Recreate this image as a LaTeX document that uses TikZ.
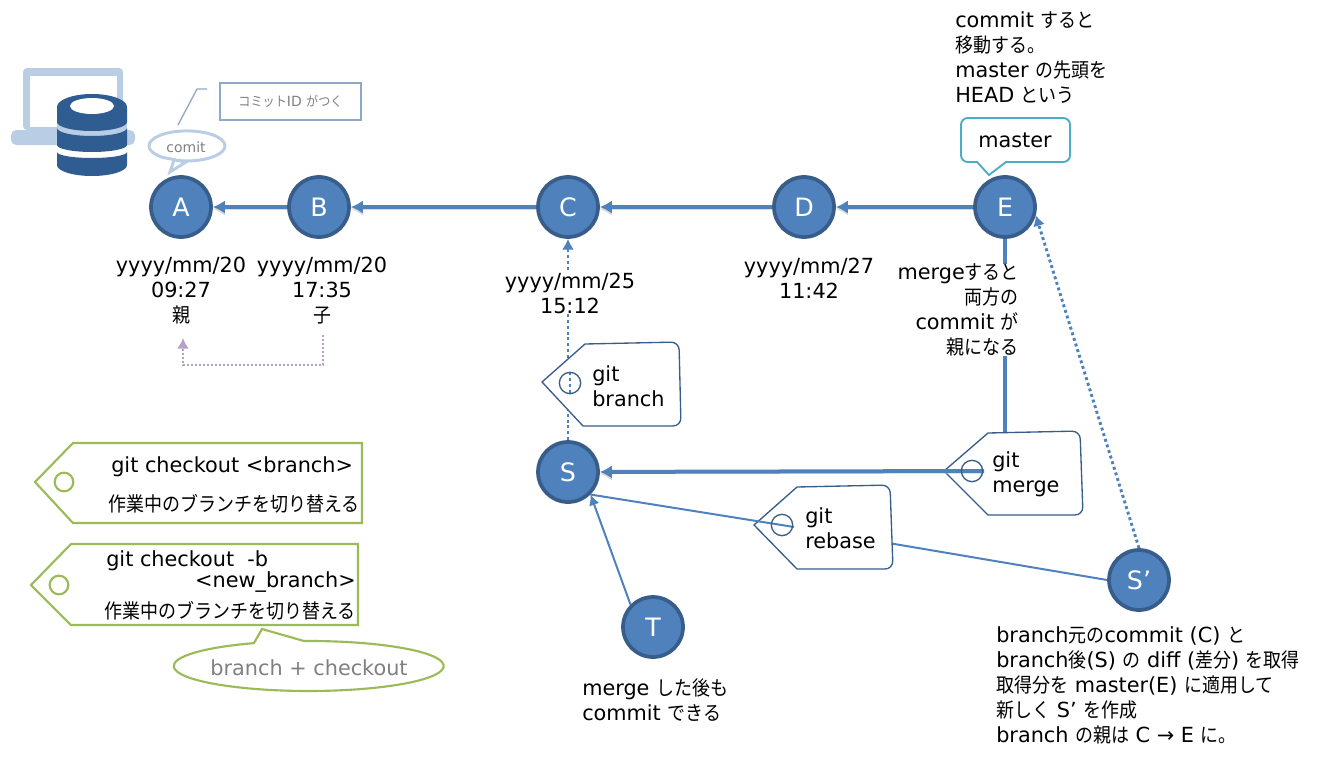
\documentclass[tikz,border=0pt]{standalone}
\usepackage{fontspec}
\setmainfont{DejaVu Sans}
\newfontfamily\jpfont[Scale=0.96,FakeStretch=0.9]{Noto Sans CJK JP}
\newcommand{\jp}[1]{{\jpfont #1}}
\usepackage{xcolor}
\usepackage{tikz}
\usetikzlibrary{arrows.meta,calc,shapes.geometric}
\definecolor{commitblue}{HTML}{4F81BD}
\definecolor{commitdark}{HTML}{385D8A}
\definecolor{lightblue}{HTML}{B9CDE5}
\definecolor{dbblue}{HTML}{2F5C91}
\definecolor{boxblue}{HTML}{8EA9C8}
\definecolor{taggreen}{HTML}{9BBB59}
\definecolor{teal}{HTML}{4BACC6}
\definecolor{dotpurple}{HTML}{B3A2C7}
\begin{document}
\begin{tikzpicture}
[x=0.75pt,y=-0.75pt,
	commit/.style={shape=circle,draw=commitdark,line width=2.8pt,fill=commitblue,
		text=white,minimum width=45pt,inner sep=0pt,font=\fontsize{19}{21}\selectfont},
	caption/.style={inner sep=0pt,align=left,font=\fontsize{15.6}{18.75}\selectfont},
	stamp/.style={caption,align=center,fill=white},
	flow/.style={-{Latex[length=9pt,width=10pt]},line width=3pt,commitblue,
		preaction={draw=black!15,transform canvas={yshift=-1.5pt}}},
	pointer/.style={line width=3.4pt,commitblue},
	thinflow/.style={line width=1.5pt,commitblue},
	dotflow/.style={-{Latex[length=8pt,width=9pt]},line width=2.2pt,commitblue,
		dash pattern=on 2.2pt off 2.2pt},
	gittag/.style={draw=commitdark,line width=1pt,fill=white},
	greentag/.style={draw=taggreen,line width=1.6pt,fill=white},
	hole/.style={shape=circle,draw,inner sep=0pt,line width=1pt},
	greytext/.style={text=black!50,inner sep=0pt}]
\useasboundingbox (0,0) rectangle (1330,760);
% laptop and database
\fill[lightblue,rounded corners=3pt] (23,130) -- (23,68) -- (123,68) -- (123,130) -- cycle;
\fill[white] (30,76) rectangle (117,127);
\fill[lightblue,rounded corners=4pt] (11,130) -- (135,130) -- (135,145) -- (11,145) -- cycle;
\fill[lightblue] (57,120) rectangle (127,142);
\fill[dbblue] (57,107) arc[start angle=180,end angle=360,x radius=35,y radius=13]
	-- (127,122) arc[start angle=0,end angle=180,x radius=35,y radius=9] -- cycle;
\fill[white] (92,106) ellipse[x radius=22,y radius=8];
\fill[dbblue] (57,128) arc[start angle=180,end angle=90,x radius=35,y radius=8]
	arc[start angle=90,end angle=0,x radius=35,y radius=8]
	-- (127,145) arc[start angle=0,end angle=180,x radius=35,y radius=7] -- cycle;
\fill[dbblue] (57,152) arc[start angle=180,end angle=90,x radius=35,y radius=6]
	arc[start angle=90,end angle=0,x radius=35,y radius=6]
	-- (127,165) arc[start angle=0,end angle=180,x radius=35,y radius=11] -- cycle;
%%
\node[commit] (a) at (181,207) {A};
\node[commit] (b) at (319,207) {B};
\node[commit] (c) at (568,207) {C};
\node[commit] (d) at (804,207) {D};
\node[commit] (e) at (1005,207) {E};
\node[commit] (s) at (568,472) {S};
\node[commit] (t) at (653,627) {T};
\node[commit] (r) at (1139,580) {S’};
%%
\coordinate (mergepin) at (984,471);
\coordinate (mergetop) at (1005,433);
\coordinate (rebasepin) at (794,527);
\coordinate (branchtop) at (570,372);
\coordinate (branchpin) at (570,394);
\coordinate (ko) at (323,335);
\coordinate (oya) at (183,338);
%%
\path
\foreach \startNode/\endNode in {b/a,c/b,d/c,e/d}
{
	(\startNode) edge[flow] (\endNode)
};
\draw[pointer] (e) -- (mergetop);
\draw[dotflow] (s) -- (c);
\draw[dotflow] (r.north) -- (e.-15);
\draw[thinflow] (r.west) -- (rebasepin);
\draw[thinflow,-{Latex[length=8pt,width=8pt]}] (t.north west) -- (s.south east);
\draw[-{Latex[length=8pt,width=9pt]},line width=1.5pt,dotpurple,dash pattern=on 1.5pt off 1.5pt]
	(ko) -- ++(0,30) -| (oya);
%%
\node[stamp] (datea) at (181,291) {yyyy/mm/20\\09:27\\\jp{親}};
\node[stamp] (dateb) at (322,291) {yyyy/mm/20\\17:35\\\jp{子}};
\node[stamp] (datec) at (570,293) {yyyy/mm/25\\15:12};
\node[stamp] (dated) at (809,278) {yyyy/mm/27\\11:42};
\node[caption,align=right,fill=white,anchor=east] (mergenote) at (1019,310)
	{merge\jp{すると}\\\jp{両方の}\\commit \jp{が}\\\jp{親になる}};
\node[caption,anchor=west] (headnote) at (955,58)
	{commit \jp{すると}\\\jp{移動する。}\\master \jp{の先頭を}\\HEAD \jp{という}};
\node[caption,anchor=west] (tnote) at (582,700) {merge \jp{した後も}\\commit \jp{できる}};
\node[caption,anchor=west] (rnote) at (996,685)
	{branch\jp{元の}commit (C) \jp{と}\\branch\jp{後}(S) \jp{の} diff (\jp{差分}) \jp{を取得}\\
	\jp{取得分を} master(E) \jp{に適用して}\\\jp{新しく} S’ \jp{を作成}\\branch \jp{の親は} C → E \jp{に。}};
%%
\draw[gittag] (542,382) -- (585,344) [rounded corners=6pt] -- (679,342) -- (681,426) [sharp corners] -- (583,426) -- cycle;
\draw[line width=2.2pt,commitblue,dash pattern=on 2.2pt off 2.2pt] (branchtop) -- (branchpin);
\node[hole,draw=commitdark,minimum width=16pt] (branchhole) at (570,383) {};
\node[caption,anchor=west] (branchtext) at (592,386) {git\\branch};
%%
\draw[gittag] (944,471) -- (988,433) [rounded corners=6pt] -- (1080,431) -- (1083,515) [sharp corners] -- (988,515) -- cycle;
\draw[flow] (mergepin) -- (s);
\node[hole,draw=commitdark,minimum width=16pt] (mergehole) at (972,471) {};
\node[caption,anchor=west] (mergetext) at (992,474) {git\\merge};
%%
\draw[gittag] (754,525) -- (797,487) [rounded corners=6pt] -- (890,485) -- (893,569) [sharp corners] -- (797,569) -- cycle;
\draw[thinflow] (rebasepin) -- (s.south east);
\node[hole,draw=commitdark,minimum width=16pt] (rebasehole) at (782,525) {};
\node[caption,anchor=west] (rebasetext) at (805,528) {git\\rebase};
%%
\draw[greentag] (35,482) -- (73,443) -- (362,443) -- (362,523) -- (73,523) -- cycle;
\node[hole,draw=taggreen,line width=1.6pt,minimum width=14pt] (holeone) at (64,482) {};
\node[caption,anchor=west] (checkout) at (111,467) {git checkout <branch>};
\node[caption,anchor=east] (switchone) at (360,504) {\jp{作業中のブランチを切り替える}};
%%
\draw[greentag] (31,585) -- (71,544) -- (358,544) -- (358,625) -- (71,625) -- cycle;
\node[hole,draw=taggreen,line width=1.6pt,minimum width=14pt] (holetwo) at (59,585) {};
\node[caption,anchor=west] (checkoutb) at (106,561) {git checkout\ \ -b};
\node[caption,anchor=east] (newbranch) at (356,582) {<new\_branch>};
\node[caption,anchor=east] (switchtwo) at (356,611) {\jp{作業中のブランチを切り替える}};
%%
\draw[draw=taggreen,line width=1.6pt,fill=white] (254,643) -- (262,629) -- (304,641)
	arc[start angle=-92,end angle=246,x radius=135,y radius=25] -- cycle;
\node[greytext,font=\fontsize{15.6}{18}\selectfont] (bcnote) at (309,668) {branch + checkout};
%%
\draw[draw=lightblue,line width=2.2pt,fill=white] (170,172) -- (174,160)
	arc[start angle=110,end angle=-230,x radius=38,y radius=15] -- (186,162) -- cycle;
\node[greytext,font=\fontsize{10.5}{12}\selectfont] (comit) at (186,147) {comit};
\draw[boxblue,line width=1pt] (178,125) -- (197,89) -- (207,89);
\node[draw=boxblue,line width=1.2pt,minimum width=106pt,minimum height=28pt,inner sep=0pt,
	text=black!50,font=\fontsize{10.5}{12}\selectfont] (idnote) at (290.5,101.5) {\jp{コミット}ID \jp{がつく}};
%%
\draw[draw=teal,line width=1.4pt,fill=white,rounded corners=5pt] (977,162) [sharp corners] -- (989,175) -- (1006,162)
	[rounded corners=5pt] -- (1070,162) -- (1070,118) -- (961,118) -- (961,162) [sharp corners] -- cycle;
\node[inner sep=0pt,font=\fontsize{15.6}{18}\selectfont] (masterlabel) at (1015,140) {master};
\end{tikzpicture}
\end{document}
